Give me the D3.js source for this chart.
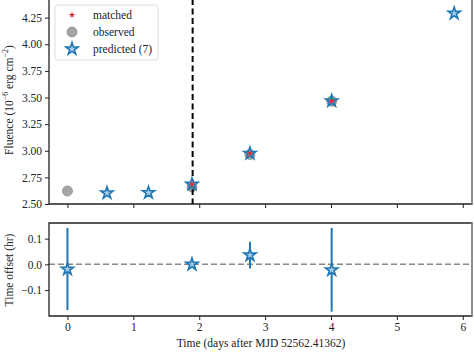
<!DOCTYPE html>
<html>
<head>
<meta charset="utf-8">
<script src="https://cdn.jsdelivr.net/npm/d3@7"></script>
<style>
  body { margin: 0; background: #fff; }
  text { font-family: "Liberation Serif", "DejaVu Serif", serif; fill: #222; }
  .tick text { font-size: 11.5px; }
  .tick line { stroke: #222; }
</style>
</head>
<body>
<div id="chart"></div>
<script>
// data
const predTime = [0.60, 1.23, 1.89, 2.77, 4.01, 5.87];
const predFluence = [2.603, 2.606, 2.685, 2.975, 3.468, 4.29];
const obsTime = [0.0, 1.89, 2.77, 4.01];
const obsFluence = [2.622, 2.66, 2.965, 3.465];
const matchTime = [1.89, 2.77, 4.01];
const matchFluence = [2.685, 2.975, 3.468];
const offTime = [0.0, 1.89, 2.77, 4.01];
const offValue = [-0.019, 0.0, 0.036, -0.022];
const offLow = [-0.178, 0.0, -0.016, -0.184];
const offHigh = [0.142, 0.0, 0.088, 0.142];
const xTicks = [0, 1, 2, 3, 4, 5, 6];
const topTicks = [2.50, 2.75, 3.00, 3.25, 3.50, 3.75, 4.00, 4.25];
const botTicks = [-0.1, 0.0, 0.1];
const vLine = 1.90;

const svgWidth = 474;
const svgHeight = 352;
const left = 49, right = 472;

const svg = d3.select("#chart")
  .append("svg")
  .attr("width", svgWidth)
  .attr("height", svgHeight);

const x = d3.scaleLinear().domain([-0.28, 6.14]).range([left, right]);
const yTop = d3.scaleLinear().domain([2.5, 4.425]).range([204, -1]);
const yBot = d3.scaleLinear().domain([-0.201, 0.161]).range([316, 223]);

const blue = "#1f77b4";
const starFill = "#a8cbe8";
const starBig = d3.symbol().type(d3.symbolStar).size(46);
const starSmall = d3.symbol().type(d3.symbolStar).size(14);

// ---- top panel ----
const topPanel = svg.append("g");

topPanel.append("g")
  .attr("transform", "translate(0,204)")
  .call(d3.axisBottom(x).tickValues(xTicks).tickSize(4).tickFormat(""))
  .call(g => g.select(".domain").remove());

topPanel.append("g")
  .attr("transform", `translate(${left},0)`)
  .call(d3.axisLeft(yTop).tickValues(topTicks).tickSize(4).tickPadding(3).tickFormat(d3.format(".2f")))
  .call(g => g.select(".domain").remove());

// observed points
topPanel.selectAll(".obs")
  .data(obsTime)
  .enter()
  .append("circle")
  .attr("cx", d => x(d))
  .attr("cy", (d, i) => yTop(obsFluence[i]))
  .attr("r", 5)
  .attr("fill", "#a6a6a6")
  .attr("stroke", "#8a8a8a")
  .attr("stroke-width", 0.8);

// dashed vertical line
topPanel.append("line")
  .attr("x1", x(vLine)).attr("x2", x(vLine))
  .attr("y1", -1).attr("y2", 204)
  .attr("stroke", "#000")
  .attr("stroke-width", 2)
  .attr("stroke-dasharray", "6,3.5");

// predicted stars
topPanel.selectAll(".pred")
  .data(predTime)
  .enter()
  .append("path")
  .attr("d", starBig)
  .attr("transform", (d, i) => `translate(${x(d)},${yTop(predFluence[i])})`)
  .attr("fill", starFill)
  .attr("stroke", blue)
  .attr("stroke-width", 1.6);

// matched stars
topPanel.selectAll(".match")
  .data(matchTime)
  .enter()
  .append("path")
  .attr("d", starSmall)
  .attr("transform", (d, i) => `translate(${x(d)},${yTop(matchFluence[i])})`)
  .attr("fill", "#d62728");

// frame
topPanel.append("path")
  .attr("d", `M${left},-1V204H${right}V-1`)
  .attr("fill", "none")
  .attr("stroke", "#222")
  .attr("stroke-width", 1.3);
topPanel.append("line")
  .attr("x1", right).attr("x2", right).attr("y1", -1).attr("y2", 204)
  .attr("stroke", "#999").attr("stroke-width", 1.5);

// legend
const legend = topPanel.append("g");
legend.append("rect")
  .attr("x", 55).attr("y", 5).attr("width", 103).attr("height", 55)
  .attr("rx", 3)
  .attr("fill", "#fff").attr("fill-opacity", 0.8)
  .attr("stroke", "#ddd");
legend.append("path")
  .attr("d", starSmall)
  .attr("transform", "translate(72,15)")
  .attr("fill", "#d62728");
legend.append("line")
  .attr("x1", 72).attr("x2", 72).attr("y1", 27).attr("y2", 37)
  .attr("stroke", "#999").attr("stroke-width", 1.2);
legend.append("circle")
  .attr("cx", 72).attr("cy", 32).attr("r", 5)
  .attr("fill", "#a6a6a6").attr("stroke", "#8a8a8a").attr("stroke-width", 0.8);
legend.append("path")
  .attr("d", starBig)
  .attr("transform", "translate(72,49)")
  .attr("fill", starFill).attr("stroke", blue).attr("stroke-width", 1.6);
const legendText = ["matched", "observed", "predicted (7)"];
legend.selectAll(".lt")
  .data(legendText)
  .enter()
  .append("text")
  .attr("x", 93)
  .attr("y", (d, i) => 15 + i * 17)
  .attr("dy", "0.35em")
  .attr("font-size", "11.5px")
  .text(d => d);

// y label
topPanel.append("text")
  .attr("transform", "translate(13,100) rotate(-90)")
  .attr("text-anchor", "middle")
  .attr("font-size", "11.5px")
  .html("Fluence (10<tspan dy='-5' font-size='8px'>\u22126</tspan><tspan dy='5'> erg cm</tspan><tspan dy='-5' font-size='8px'>\u22122</tspan><tspan dy='5'>)</tspan>");

// ---- bottom panel ----
const botPanel = svg.append("g");

botPanel.append("g")
  .attr("transform", "translate(0,316)")
  .call(d3.axisBottom(x).tickValues(xTicks).tickSize(4).tickPadding(3).tickFormat(d3.format("d")))
  .call(g => g.select(".domain").remove());

botPanel.append("g")
  .attr("transform", `translate(${left},0)`)
  .call(d3.axisLeft(yBot).tickValues(botTicks).tickSize(4).tickPadding(3).tickFormat(d => d3.format(".1f")(d).replace("-", "\u2212")))
  .call(g => g.select(".domain").remove());

botPanel.append("line")
  .attr("x1", left).attr("x2", right)
  .attr("y1", yBot(0)).attr("y2", yBot(0))
  .attr("stroke", "#888")
  .attr("stroke-width", 1.5)
  .attr("stroke-dasharray", "6,3");

// error bars
botPanel.selectAll(".err")
  .data(offTime)
  .enter()
  .append("line")
  .attr("x1", d => x(d)).attr("x2", d => x(d))
  .attr("y1", (d, i) => yBot(offLow[i]))
  .attr("y2", (d, i) => yBot(offHigh[i]))
  .attr("stroke", blue)
  .attr("stroke-width", 2);

botPanel.selectAll(".offstar")
  .data(offTime)
  .enter()
  .append("path")
  .attr("d", starBig)
  .attr("transform", (d, i) => `translate(${x(d)},${yBot(offValue[i])})`)
  .attr("fill", starFill)
  .attr("stroke", blue)
  .attr("stroke-width", 1.6);

botPanel.append("path")
  .attr("d", `M${left},223V316H${right}V223Z`)
  .attr("fill", "none")
  .attr("stroke", "#222")
  .attr("stroke-width", 1.3);
botPanel.append("line")
  .attr("x1", right).attr("x2", right).attr("y1", 223).attr("y2", 316)
  .attr("stroke", "#999").attr("stroke-width", 1.5);

botPanel.append("text")
  .attr("transform", "translate(13,270) rotate(-90)")
  .attr("text-anchor", "middle")
  .attr("font-size", "11.5px")
  .text("Time offset (hr)");

botPanel.append("text")
  .attr("x", 261)
  .attr("y", 347)
  .attr("text-anchor", "middle")
  .attr("font-size", "11.5px")
  .text("Time (days after MJD 52562.41362)");
</script>
</body>
</html>
